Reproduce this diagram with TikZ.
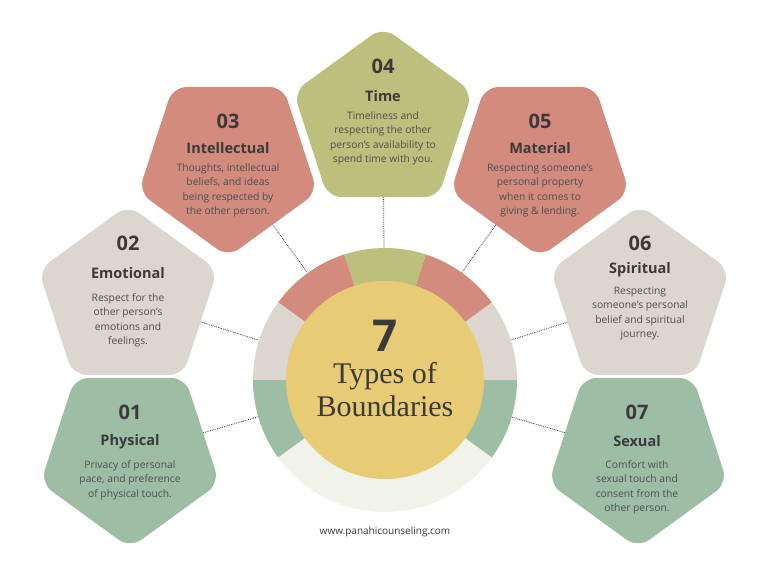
\documentclass[tikz,border=0pt]{standalone}
\usepackage{fontspec}
\setmainfont{Open Sans}
\newfontfamily\titlefont{Liberation Serif}
\usetikzlibrary{shapes.geometric}
\definecolor{cred}{HTML}{D38B7E}
\definecolor{colive}{HTML}{BDC07C}
\definecolor{cgray}{HTML}{DDD5CF}
\definecolor{csage}{HTML}{9DBEA5}
\definecolor{cpale}{HTML}{F1F2EA}
\definecolor{cyel}{HTML}{E8CB75}
\definecolor{ctxt}{HTML}{3A3A3A}
\definecolor{cbody}{HTML}{4E4E4E}
\tikzset{
 pent/.style={regular polygon, regular polygon sides=5, minimum size=188, rounded corners=14, inner sep=0, draw=none},
 pdown/.style={pent, shape border rotate=180},
 num/.style={font=\fontsize{20}{22}\selectfont\bfseries, text=ctxt},
 head/.style={font=\fontsize{14.5}{16}\selectfont\bfseries, text=ctxt},
 body/.style={font=\fontsize{10.3}{14.5}\selectfont, text=cbody, align=center, anchor=north},
 conn/.style={densely dotted, ctxt, line width=0.8pt}
}
\begin{document}
\begin{tikzpicture}[x=1pt,y=-1pt]
\useasboundingbox[fill=white] (0,0) rectangle (768,576);
% ring
\begin{scope}[shift={(385,380)}, yscale=-1]
\foreach \a/\b/\c in {-36/0/csage, 0/36/cgray, 36/72/cred, 72/108/colive, 108/144/cred, 144/180/cgray, 180/216/csage, 216/324/cpale}{
 \fill[\c] (\a:98) -- (\a:132) arc[start angle=\a, end angle=\b, radius=132] -- (\b:98) arc[start angle=\b, end angle=\a, radius=98] -- cycle;
}
\fill[cyel] (0,0) circle[radius=99];
\end{scope}
\node[circle, minimum size=264, inner sep=0] (ring) at (385,380) {};
% pentagons
\node[pdown, fill=cred] (p3) at (228,163) {};
\node[pent, fill=colive] (p4) at (383,121) {};
\node[pdown, fill=cred] (p5) at (540,163) {};
\node[pent, fill=cgray] (p2) at (128,299) {};
\node[pent, fill=cgray] (p6) at (640,299) {};
\node[pdown, fill=csage] (p1) at (130,454) {};
\node[pdown, fill=csage] (p7) at (638,454) {};
\foreach \p in {p1,p2,p3,p4,p5,p6,p7} \draw[conn] (\p) -- (ring);
% texts
\node[num] (n3) at (228,121) {03};
\node[head] (h3) at (228,148) {Intellectual};
\node[body] (b3) at (228,160) {Thoughts, intellectual\\beliefs, and ideas\\being respected by\\the other person.};
\node[num] (n4) at (383,66) {04};
\node[head] (h4) at (383,96) {Time};
\node[body] (b4) at (383,108) {Timeliness and\\respecting the other\\person's availability to\\spend time with you.};
\node[num] (n5) at (540,121) {05};
\node[head] (h5) at (540,148) {Material};
\node[body] (b5) at (540,160) {Respecting someone's\\personal property\\when it comes to\\giving \& lending.};
\node[num] (n2) at (128,243) {02};
\node[head] (h2) at (128,273) {Emotional};
\node[body] (b2) at (128,290) {Respect for the\\other person's\\emotions and\\feelings.};
\node[num] (n6) at (640,243) {06};
\node[head] (h6) at (640,270) {Spiritual};
\node[body] (b6) at (640,283) {Respecting\\someone's personal\\belief and spiritual\\journey.};
\node[num] (n1) at (130,412) {01};
\node[head] (h1) at (130,442) {Physical};
\node[body] (b1) at (130,457) {Privacy of personal\\pace, and preference\\of physical touch.};
\node[num] (n7) at (637,412) {07};
\node[head] (h7) at (637,441) {Sexual};
\node[body] (b7) at (637,457) {Comfort with\\sexual touch and\\consent from the\\other person.};
% center
\node[font=\fontsize{44}{44}\selectfont\bfseries, text=ctxt] (seven) at (385,336) {7};
\node[font=\titlefont\fontsize{30}{30}\selectfont, text=ctxt] (t1) at (385,376) {Types of};
\node[font=\titlefont\fontsize{30}{30}\selectfont, text=ctxt] (t2) at (385,406) {Boundaries};
\node[font=\fontsize{10}{11}\selectfont, text=ctxt] (web) at (385,532) {www.panahicounseling.com};
\end{tikzpicture}
\end{document}
